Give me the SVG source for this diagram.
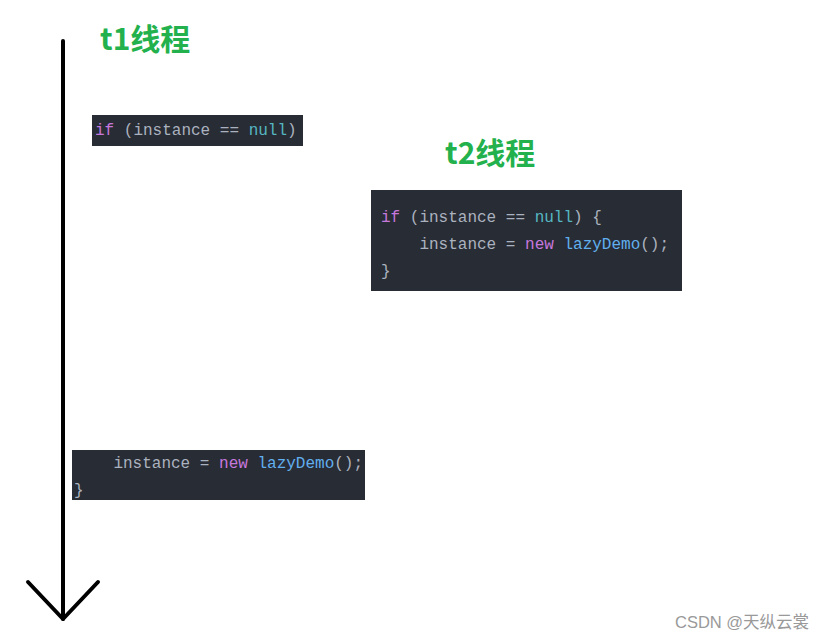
<svg xmlns="http://www.w3.org/2000/svg" width="825" height="641" viewBox="0 0 825 641">
<style>
.title{font-family:"Noto Sans CJK SC","Noto Sans",sans-serif;font-weight:bold;font-size:30px;fill:#22b14c}
.code{font-family:"Liberation Mono",monospace;font-size:16px;fill:#abb2bf;white-space:pre}
.bg{fill:#282c34}
.kw{fill:#c678dd}
.lit{fill:#56b6c2}
.fn{fill:#61afef}
.axis{stroke:#000;stroke-width:4;fill:none;stroke-linecap:round;stroke-linejoin:round}
.wm{font-family:"Liberation Sans","Noto Sans CJK SC",sans-serif;font-size:16.5px;fill:#999}
</style>
<rect width="825" height="641" fill="#fff"/>
<g id="connectors">
<line class="axis" x1="63" y1="41" x2="63" y2="619"/>
<polyline class="axis" points="28,582 63,619 98,582"/>
</g>
<g id="t1-title"><text class="title" x="100" y="50">t1线程</text></g>
<g id="t2-title"><text class="title" x="445" y="164">t2线程</text></g>
<g id="t1-check">
<rect class="bg" x="92" y="115" width="211" height="31"/>
<text class="code" x="95" y="135"><tspan class="kw">if</tspan> (instance == <tspan class="lit">null</tspan>)</text>
</g>
<g id="t2-block">
<rect class="bg" x="371" y="190" width="311" height="101"/>
<text class="code" x="381" y="222"><tspan class="kw">if</tspan> (instance == <tspan class="lit">null</tspan>) {</text>
<text class="code" x="381" y="249">    instance = <tspan class="kw">new</tspan> <tspan class="fn">lazyDemo</tspan>();</text>
<text class="code" x="381" y="276">}</text>
</g>
<g id="t1-assign">
<rect class="bg" x="72" y="450" width="293" height="50"/>
<text class="code" x="75" y="468">    instance = <tspan class="kw">new</tspan> <tspan class="fn">lazyDemo</tspan>();</text>
<text class="code" x="74" y="495">}</text>
</g>
<text class="wm" x="675" y="628">CSDN @天纵云裳</text>
</svg>
